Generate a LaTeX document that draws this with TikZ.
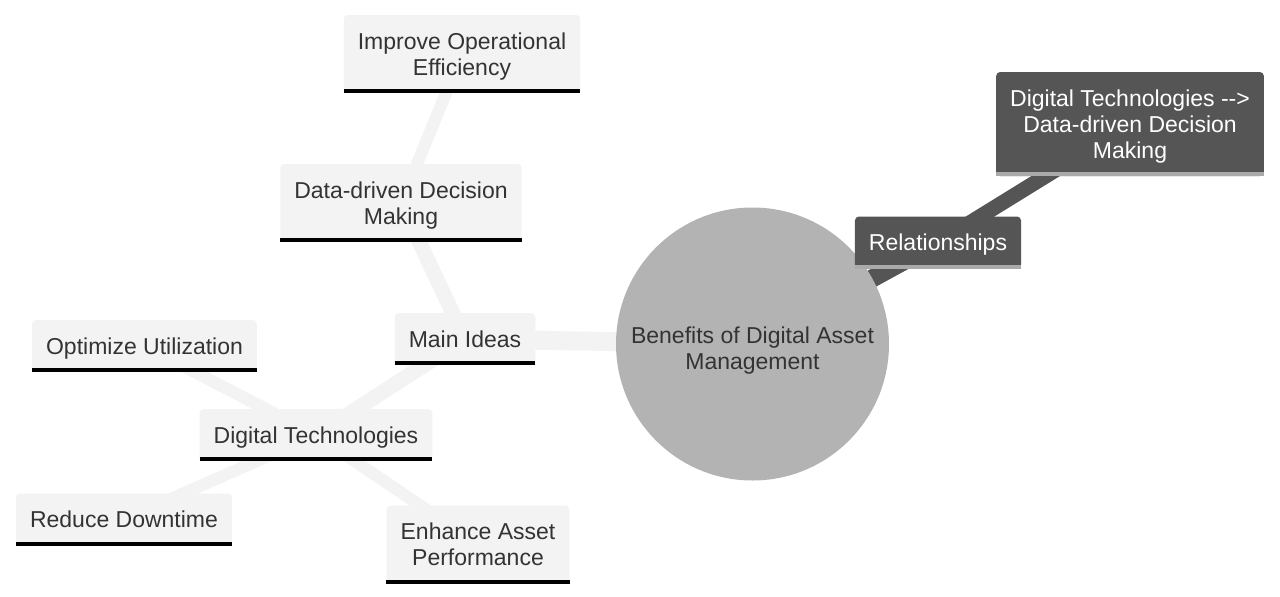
\documentclass[tikz,border=0pt]{standalone}
\usepackage{fontspec}
\setmainfont{Liberation Sans}
\usetikzlibrary{backgrounds,positioning}
\definecolor{grayi}{RGB}{179,179,179}
\definecolor{grayii}{RGB}{243,243,243}
\definecolor{grayiii}{RGB}{85,85,85}
\definecolor{grayiv}{RGB}{170,170,170}
\definecolor{texti}{RGB}{51,51,51}
\tikzset{
      myroot/.style={
        circle,
        fill=grayi,
        inner sep=0pt,
        minimum size=273pt
      },
      mytext/.style={
        text=texti,
        align=center,
        text depth=0pt,
        font=\fontsize{23}{26}\selectfont
      },
      mylight/.style={
        mytext,
        fill=grayii,
        rounded corners=4pt,
        inner xsep=14pt,
        inner ysep=0pt,
        minimum height=#1
      },
      mylight/.default=52pt,
      mydark/.style={
        mylight=#1,
        fill=grayiii,
        text=white
      },
      mydark/.default=52pt,
      mylink/.style 2 args={
        draw=#1,
        line width=#2
      },
      myline/.style={
        draw=#1,
        line width=4pt
      },
    }
\begin{document}
\begin{tikzpicture}[x=1pt,y=-1pt]

            \useasboundingbox (0,0) rectangle (1280,597);

            %Centre
            \node[myroot] (root) at (752.5,344) {};
            \node[mytext] (rootLabel) at ([yshift=-4pt]root.center)
              {Benefits of Digital Asset\\Management};

            %Idees principals
            \node[mylight] (mainIdeas) at (465,339) {Main Ideas};
            \node[mylight=78pt] (dataDriven) at (401,203)
              {Data-driven Decision\\Making};
            \node[mylight=78pt] (improveEff) at (462,54)
              {Improve Operational\\Efficiency};
            \node[mylight] (digitalTech) at (316,435) {Digital Technologies};
            \node[mylight] (optimizeUtil) at (144.5,346) {Optimize Utilization};
            \node[mylight] (reduceDown) at (124,519.5) {Reduce Downtime};
            \node[mylight=78pt] (enhancePerf) at (478,544.5)
              {Enhance Asset\\Performance};

            %Relacions
            \node[mydark] (relations) at (938,242.5) {Relationships};
            \node[mydark=104pt] (relationsItem) at (1130,124)
              {Digital Technologies -{}->\\Data-driven Decision\\Making};

            \begin{pgfonlayer}{background}
              \fill[white] (0,0) rectangle (1280,597);
              \draw[mylink={grayii}{19pt}] (root.center) -- (mainIdeas.center);
              \draw[mylink={grayii}{15pt}] (mainIdeas.center) -- (dataDriven.center);
              \draw[mylink={grayii}{15pt}] (mainIdeas.center) -- (digitalTech.center);
              \draw[mylink={grayii}{12pt}] (dataDriven.center) -- (improveEff.center);
              \foreach \leaf in {optimizeUtil,reduceDown,enhancePerf}
                \draw[mylink={grayii}{12pt}] (digitalTech.center) -- (\leaf.center);
              \draw[mylink={grayiii}{18pt}] (root.center) -- (relations.center);
              \draw[mylink={grayiii}{15pt}] (relations.center) -- (relationsItem.center);
            \end{pgfonlayer}

            \foreach \boxname in {mainIdeas,dataDriven,improveEff,digitalTech,optimizeUtil,reduceDown,enhancePerf}
              \draw[myline=black] ([yshift=2pt]\boxname.south west) -- ([yshift=2pt]\boxname.south east);
            \foreach \boxname in {relations,relationsItem}
              \draw[myline=grayiv] ([yshift=2pt]\boxname.south west) -- ([yshift=2pt]\boxname.south east);

          \end{tikzpicture}
\end{document}
